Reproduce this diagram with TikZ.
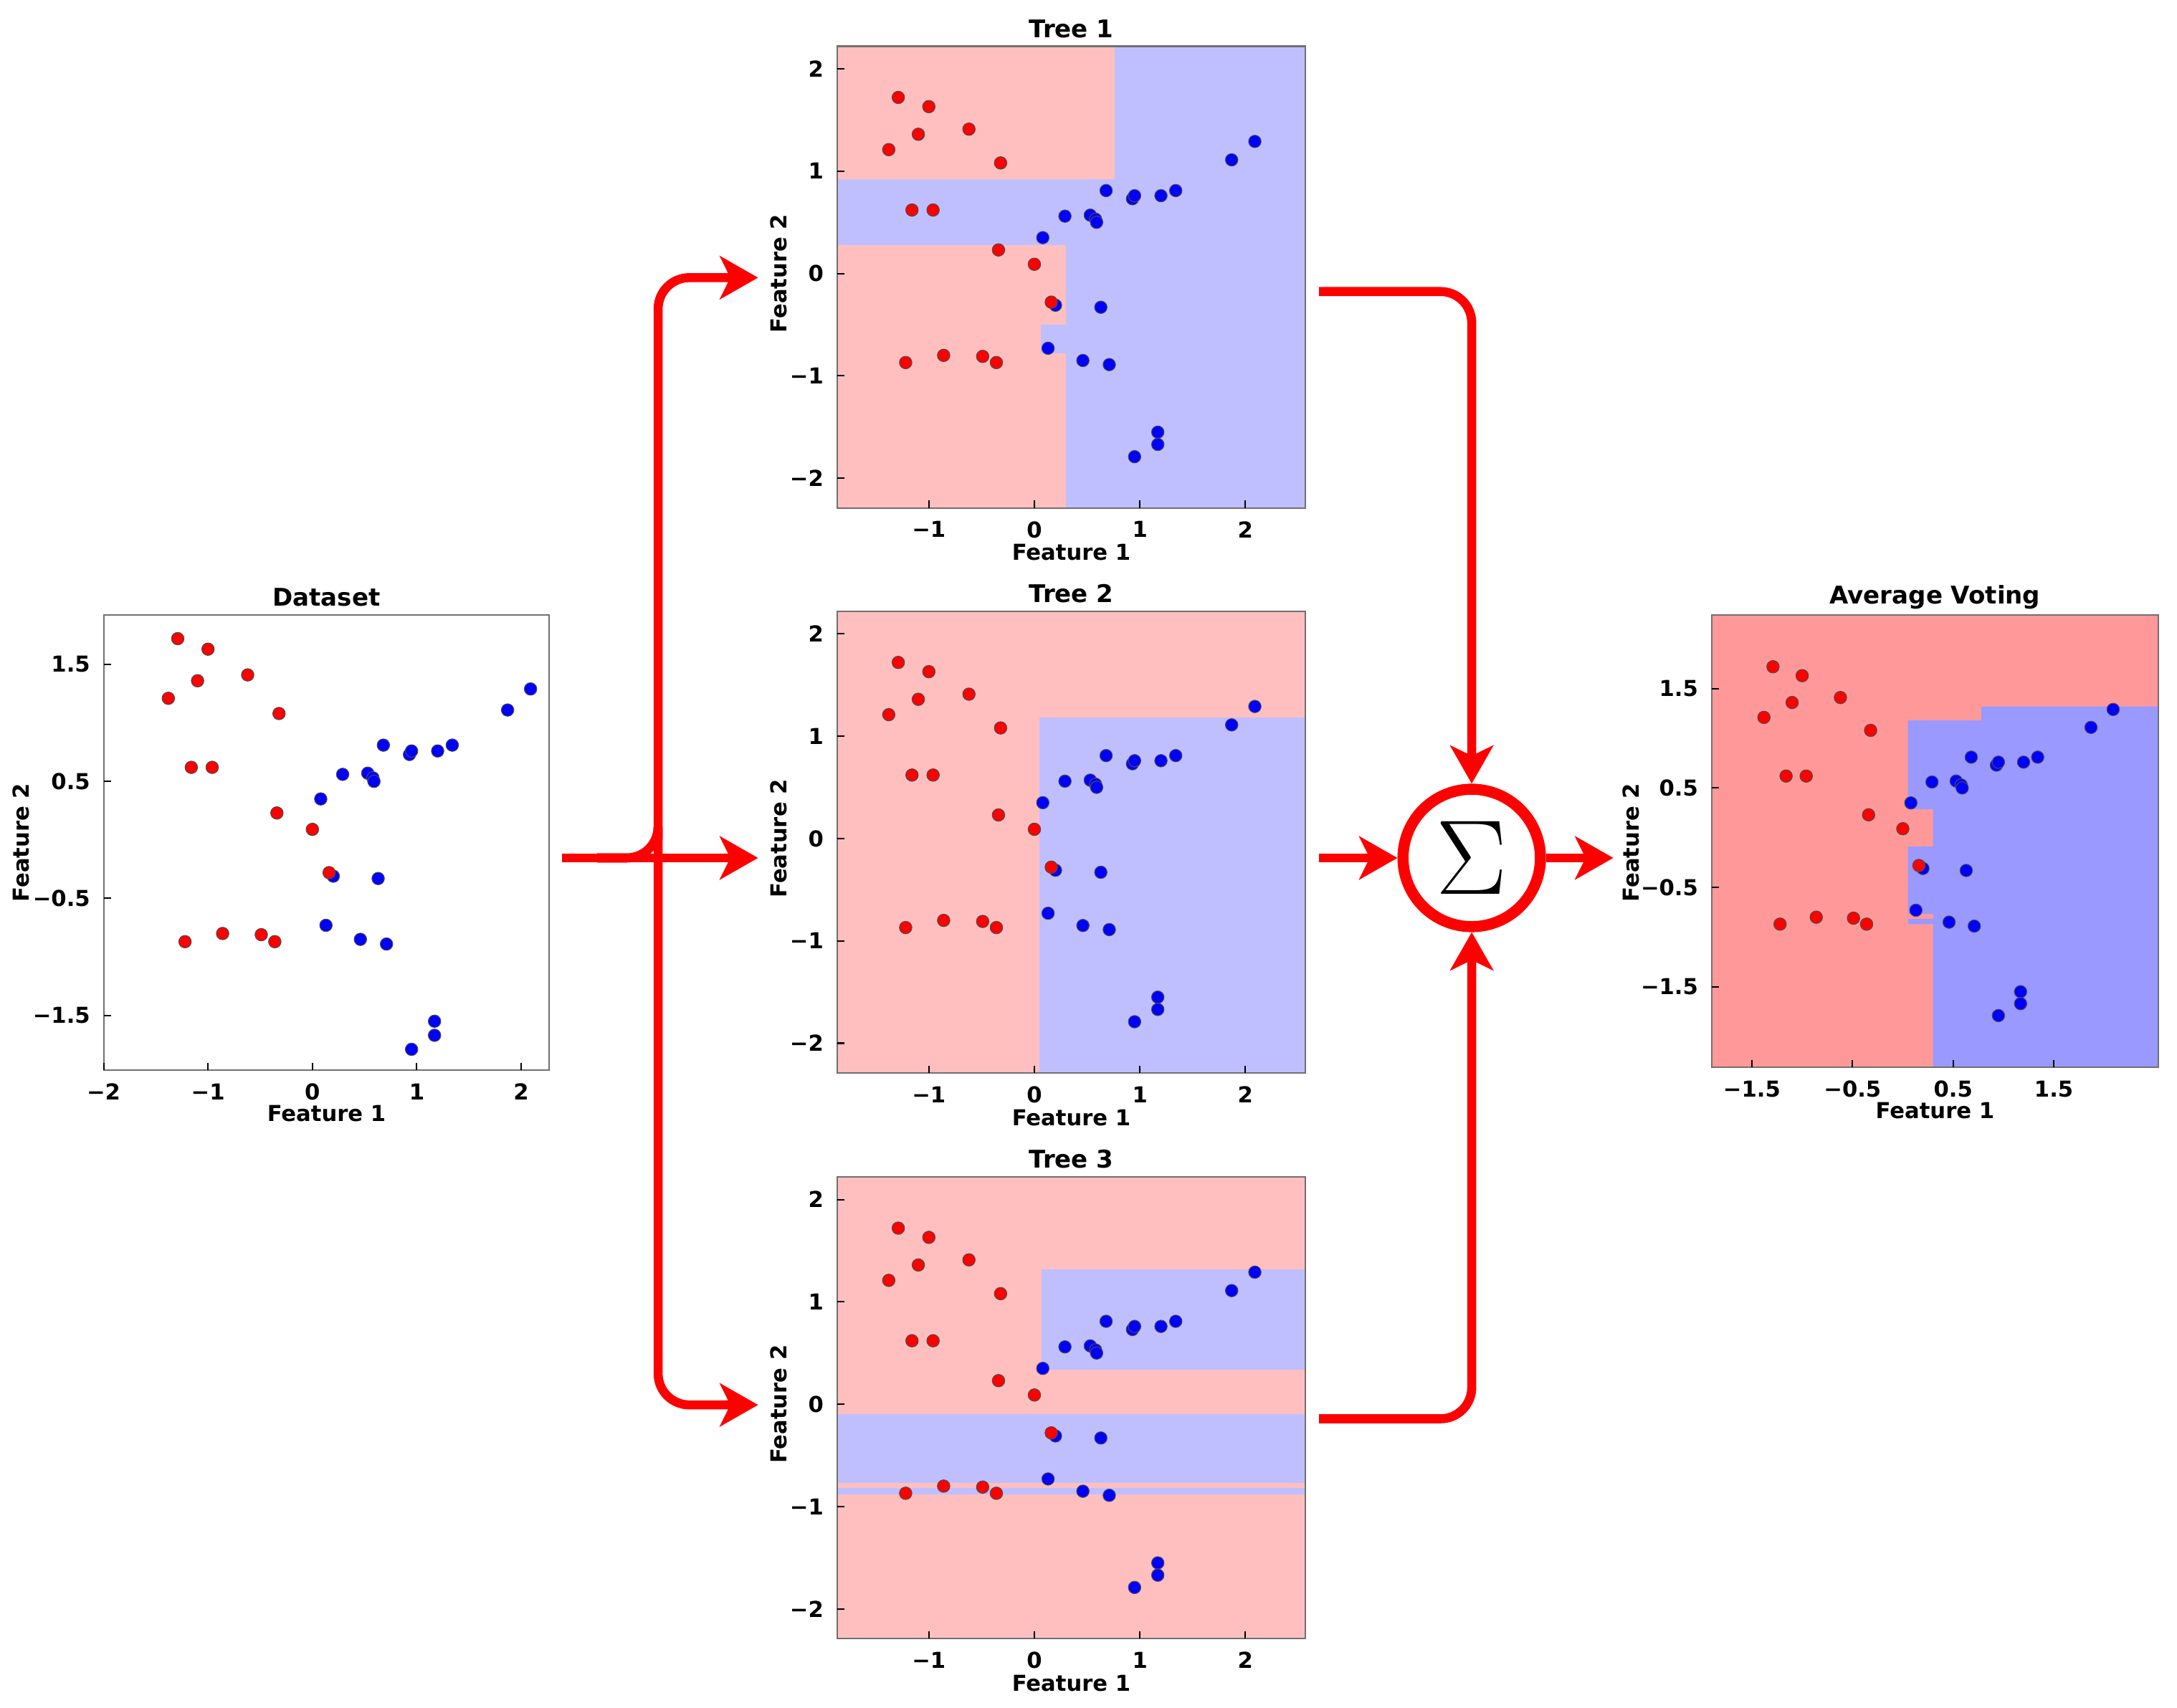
\documentclass[tikz,border=0pt]{standalone}
\usepackage{fontspec}
\setmainfont{DejaVu Sans}
\usetikzlibrary{arrows.meta}
\definecolor{lred}{HTML}{FFBFBF}
\definecolor{lblue}{HTML}{BFBFFF}
\definecolor{mred}{HTML}{FF9999}
\definecolor{mblue}{HTML}{9999FF}
\definecolor{axgray}{HTML}{707070}
\definecolor{flow}{HTML}{FF0000}
\def\redpts{-1.29/1.72,-1.0/1.63,-1.38/1.21,-1.1/1.36,-0.62/1.41,-0.32/1.08,-1.16/0.62,-0.96/0.62,-0.34/0.23,0.0/0.09,0.16/-0.28,-1.22/-0.87,-0.86/-0.80,-0.49/-0.81,-0.36/-0.87}
\def\bluepts{0.08/0.35,0.29/0.56,0.53/0.57,0.58/0.53,0.59/0.5,0.68/0.81,0.93/0.73,0.95/0.76,1.2/0.76,1.34/0.81,1.87/1.11,2.09/1.29,0.2/-0.31,0.63/-0.33,0.13/-0.73,0.46/-0.85,0.71/-0.89,1.17/-1.55,1.17/-1.67,0.95/-1.79}
\newcommand{\mydots}{%
  \foreach \a/\b in \bluepts {\fill[blue,draw=black!70,line width=0.3pt] (\a,\b) circle[radius=0.09cm];}
  \foreach \a/\b in \redpts {\fill[red,draw=black!70,line width=0.3pt] (\a,\b) circle[radius=0.09cm];}}
\tikzset{
  ticklab/.style={font=\fontsize{9}{10}\selectfont\bfseries},
  axlab/.style={font=\fontsize{9}{10}\selectfont\bfseries},
  ttl/.style={font=\fontsize{10}{12}\selectfont\bfseries},
  frame/.style={draw=axgray,line width=0.6pt},
  flowline/.style={draw=flow,line width=0.13cm,rounded corners=0.45cm},
  flowarrow/.style={flowline,-{Stealth[length=0.55cm,width=0.62cm,inset=0.15cm]}},
}
\newcommand{\xticks}[2]{\foreach \v/\l in {#2} {\draw[black,line width=0.6pt] (\v,#1) -- ++(0,3pt); \node[ticklab,anchor=north] at (\v,#1) [yshift=-2pt] {\l};}}
\newcommand{\yticks}[2]{\foreach \v/\l in {#2} {\draw[black,line width=0.6pt] (#1,\v) -- ++(3pt,0); \node[ticklab,anchor=east] at (#1,\v) [xshift=-2pt] {\l};}}
\begin{document}
\begin{tikzpicture}[x=0.02cm,y=-0.02cm]
\useasboundingbox (0,0) rectangle (1568,1230);
% ---------- Dataset
\begin{scope}[shift={(225,605)},x=1.504cm,y=1.686cm]
 \mydots
 \draw[frame] (-2,-1.97) rectangle (2.27,1.92);
 \xticks{-1.97}{-2/−2,-1/−1,0/0,1/1,2/2}
 \yticks{-2}{-1.5/−1.5,-0.5/−0.5,0.5/0.5,1.5/1.5}
 \node[ttl,anchor=south] (dsT) at (0.135,1.92) {Dataset};
 \node[axlab,anchor=north] (dsX) at (0.135,-1.97) [yshift=-0.38cm] {Feature 1};
\end{scope}
\node[axlab,rotate=90] (dsY) at (15,607) {Feature 2};
% ---------- Tree 1
\begin{scope}[shift={(745,197)},x=1.52cm,y=1.475cm]
 \fill[lred] (-1.87,-2.29) rectangle (2.57,2.22);
 \fill[lblue] (0.76,-2.29) rectangle (2.57,2.22);
 \fill[lblue] (-1.87,0.28) rectangle (0.76,0.92);
 \fill[lblue] (0.3,-2.29) rectangle (0.76,0.28);
 \fill[lblue] (0.06,-0.78) rectangle (0.3,-0.50);
 \mydots
 \draw[frame] (-1.87,-2.29) rectangle (2.57,2.22);
 \xticks{-2.29}{-1/−1,0/0,1/1,2/2}
 \yticks{-1.87}{-2/−2,-1/−1,0/0,1/1,2/2}
 \node[ttl,anchor=south] (t1T) at (0.35,2.22) {Tree 1};
 \node[axlab,anchor=north] (t1X) at (0.35,-2.29) [yshift=-0.4cm] {Feature 1};
\end{scope}
\node[axlab,rotate=90] (t1Y) at (561,197) {Feature 2};
% ---------- Tree 2
\begin{scope}[shift={(745,604)},x=1.52cm,y=1.475cm]
 \fill[lred] (-1.87,-2.29) rectangle (2.57,2.22);
 \fill[lblue] (0.05,-2.29) rectangle (2.57,1.18);
 \mydots
 \draw[frame] (-1.87,-2.29) rectangle (2.57,2.22);
 \xticks{-2.29}{-1/−1,0/0,1/1,2/2}
 \yticks{-1.87}{-2/−2,-1/−1,0/0,1/1,2/2}
 \node[ttl,anchor=south] (t2T) at (0.35,2.22) {Tree 2};
 \node[axlab,anchor=north] (t2X) at (0.35,-2.29) [yshift=-0.4cm] {Feature 1};
\end{scope}
\node[axlab,rotate=90] (t2Y) at (561,604) {Feature 2};
% ---------- Tree 3
\begin{scope}[shift={(745,1011.5)},x=1.52cm,y=1.475cm]
 \fill[lred] (-1.87,-2.29) rectangle (2.57,2.22);
 \fill[lblue] (0.07,0.34) rectangle (2.57,1.32);
 \fill[lblue] (-1.87,-0.77) rectangle (2.57,-0.10);
 \fill[lblue] (-1.87,-0.88) rectangle (2.57,-0.82);
 \mydots
 \draw[frame] (-1.87,-2.29) rectangle (2.57,2.22);
 \xticks{-2.29}{-1/−1,0/0,1/1,2/2}
 \yticks{-1.87}{-2/−2,-1/−1,0/0,1/1,2/2}
 \node[ttl,anchor=south] (t3T) at (0.35,2.22) {Tree 3};
 \node[axlab,anchor=north] (t3X) at (0.35,-2.29) [yshift=-0.4cm] {Feature 1};
\end{scope}
\node[axlab,rotate=90] (t3Y) at (561,1011.5) {Feature 2};
% ---------- Average voting
\begin{scope}[shift={(1370.5,603.4)},x=1.45cm,y=1.432cm]
 \fill[mred] (-1.90,-2.31) rectangle (2.54,2.24);
 \fill[mblue] (0.30,-2.31) -- (0.30,-0.87) -- (0.05,-0.87) -- (0.05,-0.09) -- (0.30,-0.09) -- (0.30,0.285) -- (0.05,0.285) -- (0.05,1.18) -- (0.78,1.18) -- (0.78,1.32) -- (2.54,1.32) -- (2.54,-2.31) -- cycle;
 \fill[mred] (0.05,-0.77) rectangle (0.30,-0.82);
 \mydots
 \draw[frame] (-1.90,-2.31) rectangle (2.54,2.24);
 \xticks{-2.31}{-1.5/−1.5,-0.5/−0.5,0.5/0.5,1.5/1.5}
 \yticks{-1.90}{-1.5/−1.5,-0.5/−0.5,0.5/0.5,1.5/1.5}
 \node[ttl,anchor=south] (avT) at (0.32,2.24) [yshift=-1pt] {Average Voting};
 \node[axlab,anchor=north] (avX) at (0.32,-2.31) [yshift=-0.38cm] {Feature 1};
\end{scope}
\node[axlab,rotate=90] (avY) at (1175,607) {Feature 2};
% ---------- flow
\coordinate (dsOut) at (405,618);
\coordinate (split) at (474,618);
\coordinate (t1in) at (546,200);
\coordinate (t2in) at (546,618);
\coordinate (t3in) at (546,1012);
\coordinate (t1out) at (950,210);
\coordinate (t2out) at (950,618);
\coordinate (t3out) at (950,1022);
\coordinate (avIn) at (1162,618);
\node[circle,draw=flow,line width=0.16cm,minimum size=1.98cm,inner sep=0pt] (sum) at (1060,618) {\scalebox{1.75}{\fontsize{24}{24}\selectfont$\Sigma$}};
\draw[flowarrow] (dsOut) -- (t2in);
\draw[flowarrow] (430,618) -| (split) |- (t1in);
\draw[flowarrow] (430,618) -| (split) |- (t3in);
\draw[flowarrow] (t1out) -| (sum.north);
\draw[flowarrow] (t3out) -| (sum.south);
\draw[flowarrow] (t2out) -- (sum.west);
\draw[flowarrow] (sum.east) -- (avIn);
\end{tikzpicture}
\end{document}
